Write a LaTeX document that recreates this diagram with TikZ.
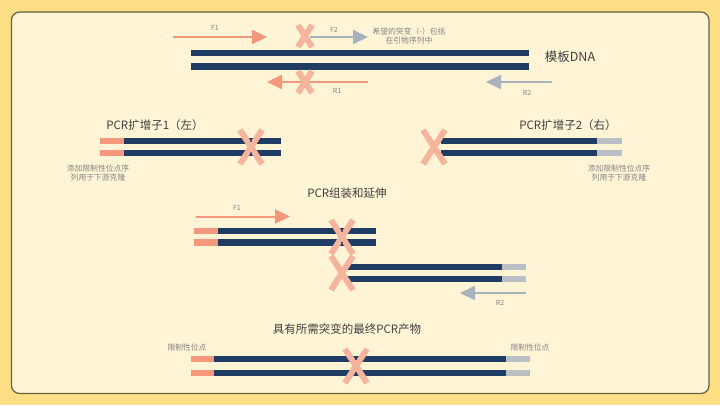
\documentclass[tikz,border=0pt]{standalone}
\usepackage{fontspec}
\setmainfont{Noto Sans CJK SC}
\usetikzlibrary{arrows.meta}
\definecolor{bgyellow}{HTML}{FCDE85}
\definecolor{cream}{HTML}{FFF4D5}
\definecolor{frame}{HTML}{65603E}
\definecolor{navy}{HTML}{1F3D64}
\definecolor{salmon}{HTML}{F4977A}
\definecolor{tailgray}{HTML}{B9BFC4}
\definecolor{primergray}{HTML}{A9B3BD}
\definecolor{xpink}{HTML}{F6B49C}
\definecolor{darktext}{HTML}{404040}
\definecolor{textgray}{HTML}{858585}
\begin{document}
\begin{tikzpicture}[x=1pt,y=-1pt,
	strand/.style	= {line width=6.5pt},
	primer/.style	= {line width=2pt, -{Triangle[length=15pt,width=14pt]}},
	lbl/.style	= {font=\fontsize{7}{8}\selectfont, text=textgray},
	note/.style	= {font=\fontsize{7.8}{9.5}\selectfont, text=textgray, align=center},
	title/.style	= {font=\fontsize{11.5}{13}\selectfont, text=darktext},
	mutx/.pic	= {\draw[line width=6pt, draw=xpink] (-11,-17) -- (11,17) (-11,17) -- (11,-17);}]
	\useasboundingbox (0,0) rectangle (720,405);
	\fill[bgyellow] (0,0) rectangle (720,405);
	\draw[fill=cream, draw=frame, line width=1.2pt, rounded corners=8pt] (11.5,12) rectangle (709,393.5);

	% template
	\draw[strand, draw=navy] (191,53) -- (529,53);
	\draw[strand, draw=navy] (191,66.5) -- (529,66.5);
	\node (TD) at (570,57)	[title, font=\fontsize{12.5}{14}\selectfont]	{模板DNA};
	\coordinate (F1a) at (173,37);	\coordinate (F1b) at (267,37);
	\coordinate (F2a) at (310,37);	\coordinate (F2b) at (368,37);
	\coordinate (R1a) at (368,82);	\coordinate (R1b) at (267,82);
	\coordinate (R2a) at (552,82);	\coordinate (R2b) at (486,82);
	\draw[primer, salmon] (F1a) -- (F1b);
	\draw[primer, primergray] (F2a) -- (F2b);
	\draw[primer, salmon] (R1a) -- (R1b);
	\draw[primer, primergray] (R2a) -- (R2b);
	\pic[scale=0.64] at (305,36) {mutx};
	\pic[scale=0.64] at (305,82) {mutx};
	\node (L1) at (215,28)	[lbl]	{F1};
	\node (L2) at (334,30)	[lbl]	{F2};
	\node (L3) at (337,91)	[lbl]	{R1};
	\node (L4) at (527,93)	[lbl]	{R2};
	\node (N1) at (409,36)	[note]	{希望的突变（-）包括\\在引物序列中};

	% amplicons
	\node (A1) at (155,125)	[title]	{PCR扩增子1（左）};
	\draw[strand, draw=salmon] (100,141) -- (124,141);
	\draw[strand, draw=salmon] (100,153) -- (124,153);
	\draw[strand, draw=navy] (124,141) -- (281,141);
	\draw[strand, draw=navy] (124,153) -- (281,153);
	\pic at (251,147) {mutx};
	\fill[navy] (251,141) circle (1pt) (251,153) circle (1pt);
	\node (N2) at (98,173)	[note]	{添加限制性位点序\\列用于下游克隆};

	\node (A2) at (568,125)	[title]	{PCR扩增子2（右）};
	\draw[strand, draw=navy] (441,141) -- (597,141);
	\draw[strand, draw=navy] (441,153) -- (597,153);
	\draw[strand, draw=tailgray] (597,141) -- (622,141);
	\draw[strand, draw=tailgray] (597,153) -- (622,153);
	\pic at (434,147) {mutx};
	\node (N3) at (619,173)	[note]	{添加限制性位点序\\列用于下游克隆};

	% assembly
	\node (A3) at (347,193)	[title]	{PCR组装和延伸};
	\coordinate (F1c) at (196,216.5);	\coordinate (F1d) at (290,216.5);
	\draw[primer, salmon] (F1c) -- (F1d);
	\node (L5) at (237,208)	[lbl]	{F1};
	\draw[strand, draw=salmon] (194,231) -- (218,231);
	\draw[strand, draw=salmon] (194,242.5) -- (218,242.5);
	\draw[strand, draw=navy] (218,231) -- (376,231);
	\draw[strand, draw=navy] (218,242.5) -- (376,242.5);
	\draw[strand, draw=navy] (347,267) -- (502,267);
	\draw[strand, draw=navy] (347,279) -- (502,279);
	\draw[strand, draw=tailgray] (502,267) -- (526,267);
	\draw[strand, draw=tailgray] (502,279) -- (526,279);
	\pic at (342,237) {mutx};
	\fill[navy] (342,231) circle (1pt) (342,242.5) circle (1pt);
	\pic at (342,273) {mutx};
	\coordinate (R2c) at (526,293);	\coordinate (R2d) at (460,293);
	\draw[primer, primergray] (R2c) -- (R2d);
	\node (L6) at (500,303)	[lbl]	{R2};

	% final product
	\node (A4) at (347,329)	[title]	{具有所需突变的最终PCR产物};
	\node (S1) at (187,348)	[lbl, font=\fontsize{7.8}{9}\selectfont]	{限制性位点};
	\node (S2) at (530,348)	[lbl, font=\fontsize{7.8}{9}\selectfont]	{限制性位点};
	\draw[strand, draw=salmon] (191,359) -- (214,359);
	\draw[strand, draw=salmon] (191,373) -- (214,373);
	\draw[strand, draw=navy] (214,359) -- (506,359);
	\draw[strand, draw=navy] (214,373) -- (506,373);
	\draw[strand, draw=tailgray] (506,359) -- (530,359);
	\draw[strand, draw=tailgray] (506,373) -- (530,373);
	\pic at (356,366) {mutx};
	\fill[navy] (356,359) circle (1pt) (356,373) circle (1pt);
\end{tikzpicture}
\end{document}
